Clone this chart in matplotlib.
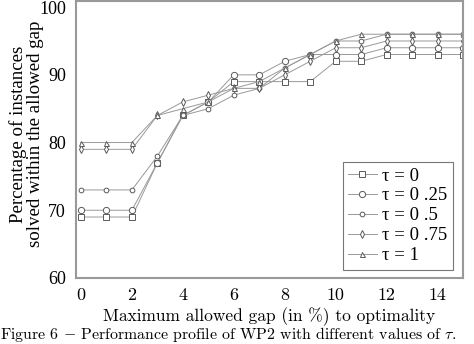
import matplotlib
matplotlib.use("Agg")
import matplotlib.pyplot as plt

# gap values (in %) and share of instances solved, one list per tau
gaps = list(range(16))
tau_labels = ["τ = 0", "τ = 0 .25", "τ = 0 .5", "τ = 0 .75", "τ = 1"]
tau_0 = [69, 69, 69, 77, 84, 86, 89, 89, 89, 89, 92, 92, 93, 93, 93, 93]
tau_025 = [70, 70, 70, 77, 84, 86, 90, 90, 92, 93, 93, 93, 94, 94, 94, 94]
tau_05 = [73, 73, 73, 78, 84, 85, 87, 88, 91, 93, 95, 95, 96, 96, 96, 96]
tau_075 = [79, 79, 79, 84, 86, 87, 88, 88, 90, 92, 94, 94, 95, 95, 95, 95]
tau_1 = [80, 80, 80, 84, 85, 86, 88, 89, 91, 93, 95, 96, 96, 96, 96, 96]
x_ticks = [0, 2, 4, 6, 8, 10, 12, 14]
y_ticks = [60, 70, 80, 90, 100]

plt.rcParams['mathtext.fontset'] = 'cm'
cm_font = ['cmr10', 'DejaVu Serif']
times_font = ['Liberation Serif', 'DejaVu Serif']

fig = plt.figure(figsize=(4.74, 3.44), dpi=100)
ax = fig.add_axes([0.160, 0.192, 0.817, 0.805])

series = [tau_0, tau_025, tau_05, tau_075, tau_1]
markers = ['s', 'o', 'o', 'd', '^']
sizes = [4.3, 4.5, 3.4, 3.6, 3.6]

for vals, m, ms, lab in zip(series, markers, sizes, tau_labels):
    ax.plot(gaps, vals, color='#999999', lw=0.7, marker=m, ms=ms,
            mfc='white', mec='#5a5a5a', mew=0.7, label=lab)

ax.set_xlim(-0.2, 15)
ax.set_ylim(60, 100.9)
ax.set_xticks(x_ticks)
ax.set_yticks(y_ticks)
ax.tick_params(length=0, labelsize=13, pad=7)
for lbl in ax.get_xticklabels():
    lbl.set_family(cm_font)
for lbl in ax.get_yticklabels():
    lbl.set_family(times_font)

for s in ax.spines.values():
    s.set_color('#999999')
    s.set_linewidth(1.5)

ax.set_xlabel("Maximum allowed gap (in %) to optimality", family=cm_font,
              fontsize=12.5, labelpad=3)
ax.set_ylabel("Percentage of instances\nsolved within the allowed gap",
              family=times_font, fontsize=13.6, linespacing=1.0)
ax.yaxis.set_label_coords(-0.083, 0.52)

leg = ax.legend(loc='lower right', bbox_to_anchor=(0.974, 0.029),
                prop={'family': times_font, 'size': 13.5},
                fancybox=False, framealpha=1, handlelength=1.5,
                handletextpad=0.3, borderpad=0.3, labelspacing=0.15,
                borderaxespad=0)
leg.get_frame().set_edgecolor('#777777')
leg.get_frame().set_linewidth(0.8)

fig.text(0.0, 0.0, r"Figure 6 $-$ Performance profile of WP2 with different values of $\tau$.",
         family=cm_font, fontsize=11.4, ha='left', va='bottom')

fig.savefig("out.png", dpi=100)
